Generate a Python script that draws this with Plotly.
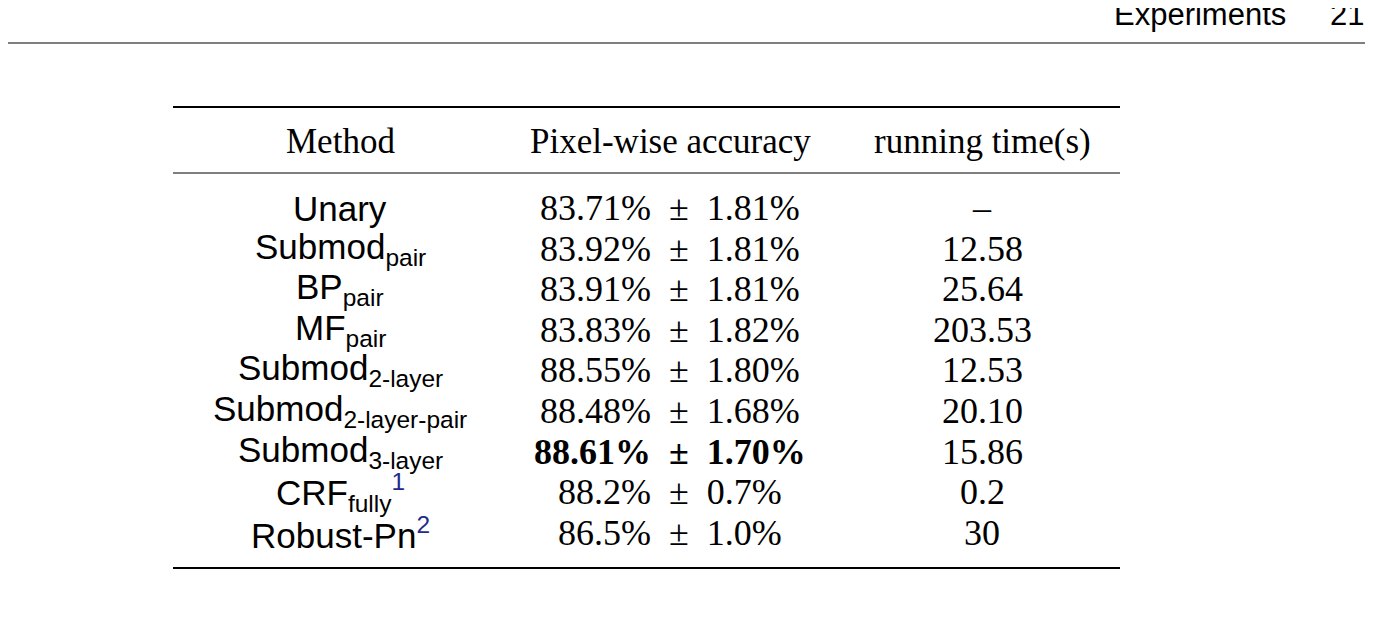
import plotly.graph_objects as go

methods = ["Unary", "Submod", "BP", "MF", "Submod", "Submod", "Submod", "CRF", "Robust-Pn"]
subs = ["", "pair", "pair", "pair", "2-layer", "2-layer-pair", "3-layer", "fully", ""]
refs = ["", "", "", "", "", "", "", "1", "2"]
acc = ["83.71", "83.92", "83.91", "83.83", "88.55", "88.48", "88.61", "88.2", "86.5"]
std = ["1.81", "1.81", "1.81", "1.82", "1.80", "1.68", "1.70", "0.7", "1.0"]
times = ["–", "12.58", "25.64", "203.53", "12.53", "20.10", "15.86", "0.2", "30"]
bold_row = 6
headers = ["Method", "Pixel-wise accuracy", "running time(s)"]

W, H = 1373, 620
OFF = 8  # page offset compensation
fig = go.Figure()
fig.update_layout(width=W, height=H, margin=dict(l=0, r=0, t=0, b=0),
                  plot_bgcolor="white", paper_bgcolor="white", showlegend=False,
                  xaxis=dict(range=[OFF, W + OFF], visible=False, fixedrange=True),
                  yaxis=dict(range=[H + OFF, OFF], visible=False, fixedrange=True))

sans = "Liberation Sans, Arial"
serif = "Liberation Serif, DejaVu Serif"
col_x = [340, 670, 982]
row_y0, row_dy = 208, 40.6

def ann(x, y, t, font, size=29, xanchor="center", color="black"):
    fig.add_annotation(x=x, y=y, text=t, showarrow=False, xanchor=xanchor, yanchor="middle",
                       font=dict(family=font, size=size, color=color))

# page header
ann(1200, 14, "Experiments", sans, 31)
ann(1366, 14, "21", sans, 31, xanchor="right")
fig.add_shape(type="line", x0=0, x1=W + OFF, y0=43, y1=43, line=dict(color="black", width=1.2))

# rules
fig.add_shape(type="line", x0=173, x1=1120, y0=107, y1=107, line=dict(color="black", width=2))
fig.add_shape(type="line", x0=173, x1=1120, y0=173, y1=173, line=dict(color="black", width=1.2))
fig.add_shape(type="line", x0=173, x1=1120, y0=568, y1=568, line=dict(color="black", width=2))

for x, h in zip(col_x, headers):
    ann(x, 141, h, serif, 35)

for i in range(len(methods)):
    y = row_y0 + i * row_dy
    t = methods[i]
    if subs[i]:
        t += "<sub>%s</sub>" % subs[i]
    if refs[i]:
        t += "<sup><span style='color:#1f2a8c'>%s</span></sup>" % refs[i]
    ann(col_x[0], y, t, sans, 35)
    a = "%s%% &nbsp;± &nbsp;%s%%" % (acc[i], std[i])
    if i == bold_row:
        a = "<b>%s</b>" % a
    ann(col_x[1], y, a, serif, 36)
    ann(col_x[2], y, times[i], serif, 36)

fig.write_html("out.html")
